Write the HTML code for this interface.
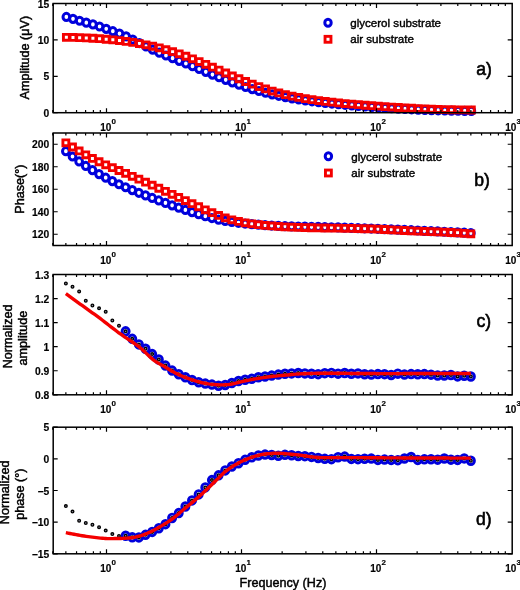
<!DOCTYPE html>
<html><head><meta charset="utf-8"><title>Frequency response plots</title>
<style>
html,body{margin:0;padding:0;background:#fff;}
body{width:520px;height:590px;overflow:hidden;}
svg{display:block;}
text{font-family:"Liberation Sans",Arial,Helvetica,sans-serif;fill:#000;}
.tl{font-size:10.3px;font-weight:bold;stroke:#000;stroke-width:0.15px;}
.sup{font-size:8px;}
.lg{font-size:11.6px;stroke:#000;stroke-width:0.4px;}
.al{font-size:12.6px;stroke:#000;stroke-width:0.45px;}
.pl{font-size:17.6px;stroke:#000;stroke-width:0.6px;}
</style></head><body>
<svg width="520" height="590" viewBox="0 0 520 590">
<rect width="520" height="590" fill="#fff"/>
<g fill="none" stroke="#0000dc" stroke-width="3"><ellipse cx="66.36" cy="16.97" rx="3.35" ry="3.6"/><ellipse cx="73" cy="18.82" rx="3.35" ry="3.6"/><ellipse cx="79.64" cy="20.77" rx="3.35" ry="3.6"/><ellipse cx="86.28" cy="22.65" rx="3.35" ry="3.6"/><ellipse cx="92.92" cy="24.44" rx="3.35" ry="3.6"/><ellipse cx="99.56" cy="26.51" rx="3.35" ry="3.6"/><ellipse cx="106.2" cy="28.82" rx="3.35" ry="3.6"/><ellipse cx="112.84" cy="31.2" rx="3.35" ry="3.6"/><ellipse cx="119.48" cy="33.59" rx="3.35" ry="3.6"/><ellipse cx="126.12" cy="36.28" rx="3.35" ry="3.6"/><ellipse cx="132.75" cy="39.53" rx="3.35" ry="3.6"/><ellipse cx="139.39" cy="43.05" rx="3.35" ry="3.6"/><ellipse cx="146.03" cy="46.46" rx="3.35" ry="3.6"/><ellipse cx="152.67" cy="49.68" rx="3.35" ry="3.6"/><ellipse cx="159.31" cy="52.7" rx="3.35" ry="3.6"/><ellipse cx="165.95" cy="55.52" rx="3.35" ry="3.6"/><ellipse cx="172.59" cy="58.21" rx="3.35" ry="3.6"/><ellipse cx="179.23" cy="60.84" rx="3.35" ry="3.6"/><ellipse cx="185.87" cy="63.49" rx="3.35" ry="3.6"/><ellipse cx="192.51" cy="66.22" rx="3.35" ry="3.6"/><ellipse cx="199.15" cy="69.01" rx="3.35" ry="3.6"/><ellipse cx="205.79" cy="71.81" rx="3.35" ry="3.6"/><ellipse cx="212.43" cy="74.56" rx="3.35" ry="3.6"/><ellipse cx="219.07" cy="77.25" rx="3.35" ry="3.6"/><ellipse cx="225.71" cy="79.86" rx="3.35" ry="3.6"/><ellipse cx="232.34" cy="82.36" rx="3.35" ry="3.6"/><ellipse cx="238.98" cy="84.75" rx="3.35" ry="3.6"/><ellipse cx="245.62" cy="86.99" rx="3.35" ry="3.6"/><ellipse cx="252.26" cy="89.08" rx="3.35" ry="3.6"/><ellipse cx="258.9" cy="90.99" rx="3.35" ry="3.6"/><ellipse cx="265.54" cy="92.74" rx="3.35" ry="3.6"/><ellipse cx="272.18" cy="94.34" rx="3.35" ry="3.6"/><ellipse cx="278.82" cy="95.79" rx="3.35" ry="3.6"/><ellipse cx="285.46" cy="97.12" rx="3.35" ry="3.6"/><ellipse cx="292.1" cy="98.32" rx="3.35" ry="3.6"/><ellipse cx="298.74" cy="99.41" rx="3.35" ry="3.6"/><ellipse cx="305.38" cy="100.4" rx="3.35" ry="3.6"/><ellipse cx="312.02" cy="101.3" rx="3.35" ry="3.6"/><ellipse cx="318.66" cy="102.11" rx="3.35" ry="3.6"/><ellipse cx="325.3" cy="102.86" rx="3.35" ry="3.6"/><ellipse cx="331.93" cy="103.55" rx="3.35" ry="3.6"/><ellipse cx="338.57" cy="104.19" rx="3.35" ry="3.6"/><ellipse cx="345.21" cy="104.79" rx="3.35" ry="3.6"/><ellipse cx="351.85" cy="105.37" rx="3.35" ry="3.6"/><ellipse cx="358.49" cy="105.91" rx="3.35" ry="3.6"/><ellipse cx="365.13" cy="106.43" rx="3.35" ry="3.6"/><ellipse cx="371.77" cy="106.92" rx="3.35" ry="3.6"/><ellipse cx="378.41" cy="107.39" rx="3.35" ry="3.6"/><ellipse cx="385.05" cy="107.82" rx="3.35" ry="3.6"/><ellipse cx="391.69" cy="108.23" rx="3.35" ry="3.6"/><ellipse cx="398.33" cy="108.61" rx="3.35" ry="3.6"/><ellipse cx="404.97" cy="108.96" rx="3.35" ry="3.6"/><ellipse cx="411.61" cy="109.28" rx="3.35" ry="3.6"/><ellipse cx="418.25" cy="109.58" rx="3.35" ry="3.6"/><ellipse cx="424.89" cy="109.85" rx="3.35" ry="3.6"/><ellipse cx="431.52" cy="110.09" rx="3.35" ry="3.6"/><ellipse cx="438.16" cy="110.3" rx="3.35" ry="3.6"/><ellipse cx="444.8" cy="110.48" rx="3.35" ry="3.6"/><ellipse cx="451.44" cy="110.64" rx="3.35" ry="3.6"/><ellipse cx="458.08" cy="110.76" rx="3.35" ry="3.6"/><ellipse cx="464.72" cy="110.86" rx="3.35" ry="3.6"/><ellipse cx="471.36" cy="110.93" rx="3.35" ry="3.6"/></g>
<path fill="none" stroke="#f40000" stroke-width="2.9" d="M63.41 34.39h5.9v5.9h-5.9zM70.05 34.5h5.9v5.9h-5.9zM76.69 34.68h5.9v5.9h-5.9zM83.33 34.94h5.9v5.9h-5.9zM89.97 35.3h5.9v5.9h-5.9zM96.61 35.74h5.9v5.9h-5.9zM103.25 36.28h5.9v5.9h-5.9zM109.89 36.92h5.9v5.9h-5.9zM116.53 37.66h5.9v5.9h-5.9zM123.17 38.51h5.9v5.9h-5.9zM129.8 39.49h5.9v5.9h-5.9zM136.44 40.6h5.9v5.9h-5.9zM143.08 41.86h5.9v5.9h-5.9zM149.72 43.28h5.9v5.9h-5.9zM156.36 44.89h5.9v5.9h-5.9zM163 46.69h5.9v5.9h-5.9zM169.64 48.69h5.9v5.9h-5.9zM176.28 50.91h5.9v5.9h-5.9zM182.92 53.31h5.9v5.9h-5.9zM189.56 55.88h5.9v5.9h-5.9zM196.2 58.58h5.9v5.9h-5.9zM202.84 61.37h5.9v5.9h-5.9zM209.48 64.24h5.9v5.9h-5.9zM216.12 67.14h5.9v5.9h-5.9zM222.76 70.05h5.9v5.9h-5.9zM229.39 72.94h5.9v5.9h-5.9zM236.03 75.78h5.9v5.9h-5.9zM242.67 78.53h5.9v5.9h-5.9zM249.31 81.18h5.9v5.9h-5.9zM255.95 83.67h5.9v5.9h-5.9zM262.59 86h5.9v5.9h-5.9zM269.23 88.12h5.9v5.9h-5.9zM275.87 90.02h5.9v5.9h-5.9zM282.51 91.7h5.9v5.9h-5.9zM289.15 93.19h5.9v5.9h-5.9zM295.79 94.52h5.9v5.9h-5.9zM302.43 95.69h5.9v5.9h-5.9zM309.07 96.73h5.9v5.9h-5.9zM315.71 97.66h5.9v5.9h-5.9zM322.35 98.49h5.9v5.9h-5.9zM328.98 99.26h5.9v5.9h-5.9zM335.62 99.96h5.9v5.9h-5.9zM342.26 100.6h5.9v5.9h-5.9zM348.9 101.2h5.9v5.9h-5.9zM355.54 101.75h5.9v5.9h-5.9zM362.18 102.28h5.9v5.9h-5.9zM368.82 102.77h5.9v5.9h-5.9zM375.46 103.25h5.9v5.9h-5.9zM382.1 103.7h5.9v5.9h-5.9zM388.74 104.14h5.9v5.9h-5.9zM395.38 104.55h5.9v5.9h-5.9zM402.02 104.93h5.9v5.9h-5.9zM408.66 105.29h5.9v5.9h-5.9zM415.3 105.62h5.9v5.9h-5.9zM421.94 105.92h5.9v5.9h-5.9zM428.57 106.19h5.9v5.9h-5.9zM435.21 106.43h5.9v5.9h-5.9zM441.85 106.63h5.9v5.9h-5.9zM448.49 106.79h5.9v5.9h-5.9zM455.13 106.91h5.9v5.9h-5.9zM461.77 107h5.9v5.9h-5.9zM468.41 107.04h5.9v5.9h-5.9z"/>
<rect x="53.2" y="3.5" width="459" height="109.2" fill="none" stroke="#000" stroke-width="1.5"/><path stroke="#000" stroke-width="1.2" fill="none" d="M52.78 112.7v-2.6M52.78 3.5v2.6M65.86 112.7v-2.6M65.86 3.5v2.6M76.55 112.7v-2.6M76.55 3.5v2.6M85.59 112.7v-2.6M85.59 3.5v2.6M93.42 112.7v-2.6M93.42 3.5v2.6M100.32 112.7v-2.6M100.32 3.5v2.6M106.5 112.7v-4.5M106.5 3.5v4.5M147.14 112.7v-2.6M147.14 3.5v2.6M170.91 112.7v-2.6M170.91 3.5v2.6M187.78 112.7v-2.6M187.78 3.5v2.6M200.86 112.7v-2.6M200.86 3.5v2.6M211.55 112.7v-2.6M211.55 3.5v2.6M220.59 112.7v-2.6M220.59 3.5v2.6M228.42 112.7v-2.6M228.42 3.5v2.6M235.32 112.7v-2.6M235.32 3.5v2.6M241.5 112.7v-4.5M241.5 3.5v4.5M282.14 112.7v-2.6M282.14 3.5v2.6M305.91 112.7v-2.6M305.91 3.5v2.6M322.78 112.7v-2.6M322.78 3.5v2.6M335.86 112.7v-2.6M335.86 3.5v2.6M346.55 112.7v-2.6M346.55 3.5v2.6M355.59 112.7v-2.6M355.59 3.5v2.6M363.42 112.7v-2.6M363.42 3.5v2.6M370.32 112.7v-2.6M370.32 3.5v2.6M376.5 112.7v-4.5M376.5 3.5v4.5M417.14 112.7v-2.6M417.14 3.5v2.6M440.91 112.7v-2.6M440.91 3.5v2.6M457.78 112.7v-2.6M457.78 3.5v2.6M470.86 112.7v-2.6M470.86 3.5v2.6M481.55 112.7v-2.6M481.55 3.5v2.6M490.59 112.7v-2.6M490.59 3.5v2.6M498.42 112.7v-2.6M498.42 3.5v2.6M505.32 112.7v-2.6M505.32 3.5v2.6M53.2 112.7h4.5M512.2 112.7h-4.5M53.2 76.3h4.5M512.2 76.3h-4.5M53.2 39.9h4.5M512.2 39.9h-4.5M53.2 3.5h4.5M512.2 3.5h-4.5"/><text class="tl" x="49.3" y="116.8" text-anchor="end">0</text><text class="tl" x="49.3" y="80.4" text-anchor="end">5</text><text class="tl" x="49.3" y="44" text-anchor="end">10</text><text class="tl" x="49.3" y="7.6" text-anchor="end">15</text><text class="tl" x="100.3" y="130.7" style="font-size:10px">10<tspan class="sup" dy="-7">0</tspan></text><text class="tl" x="235.3" y="130.7" style="font-size:10px">10<tspan class="sup" dy="-7">1</tspan></text><text class="tl" x="370.3" y="130.7" style="font-size:10px">10<tspan class="sup" dy="-7">2</tspan></text><text class="tl" x="505.3" y="130.7" style="font-size:10px">10<tspan class="sup" dy="-7">3</tspan></text>
<g fill="none" stroke="#0000dc" stroke-width="3"><ellipse cx="65.86" cy="151.22" rx="3.35" ry="3.6"/><ellipse cx="72.5" cy="156.52" rx="3.35" ry="3.6"/><ellipse cx="79.14" cy="161.42" rx="3.35" ry="3.6"/><ellipse cx="85.78" cy="165.96" rx="3.35" ry="3.6"/><ellipse cx="92.42" cy="170.17" rx="3.35" ry="3.6"/><ellipse cx="99.06" cy="174.07" rx="3.35" ry="3.6"/><ellipse cx="105.7" cy="177.71" rx="3.35" ry="3.6"/><ellipse cx="112.34" cy="181.09" rx="3.35" ry="3.6"/><ellipse cx="118.98" cy="184.27" rx="3.35" ry="3.6"/><ellipse cx="125.62" cy="187.25" rx="3.35" ry="3.6"/><ellipse cx="132.25" cy="190.09" rx="3.35" ry="3.6"/><ellipse cx="138.89" cy="192.8" rx="3.35" ry="3.6"/><ellipse cx="145.53" cy="195.41" rx="3.35" ry="3.6"/><ellipse cx="152.17" cy="197.95" rx="3.35" ry="3.6"/><ellipse cx="158.81" cy="200.45" rx="3.35" ry="3.6"/><ellipse cx="165.45" cy="202.91" rx="3.35" ry="3.6"/><ellipse cx="172.09" cy="205.31" rx="3.35" ry="3.6"/><ellipse cx="178.73" cy="207.64" rx="3.35" ry="3.6"/><ellipse cx="185.37" cy="209.91" rx="3.35" ry="3.6"/><ellipse cx="192.01" cy="212.1" rx="3.35" ry="3.6"/><ellipse cx="198.65" cy="214.21" rx="3.35" ry="3.6"/><ellipse cx="205.29" cy="216.22" rx="3.35" ry="3.6"/><ellipse cx="211.93" cy="218.05" rx="3.35" ry="3.6"/><ellipse cx="218.57" cy="219.63" rx="3.35" ry="3.6"/><ellipse cx="225.21" cy="220.91" rx="3.35" ry="3.6"/><ellipse cx="231.84" cy="221.95" rx="3.35" ry="3.6"/><ellipse cx="238.48" cy="222.8" rx="3.35" ry="3.6"/><ellipse cx="245.12" cy="223.54" rx="3.35" ry="3.6"/><ellipse cx="251.76" cy="224.17" rx="3.35" ry="3.6"/><ellipse cx="258.4" cy="224.7" rx="3.35" ry="3.6"/><ellipse cx="265.04" cy="225.15" rx="3.35" ry="3.6"/><ellipse cx="271.68" cy="225.53" rx="3.35" ry="3.6"/><ellipse cx="278.32" cy="225.84" rx="3.35" ry="3.6"/><ellipse cx="284.96" cy="226.09" rx="3.35" ry="3.6"/><ellipse cx="291.6" cy="226.31" rx="3.35" ry="3.6"/><ellipse cx="298.24" cy="226.49" rx="3.35" ry="3.6"/><ellipse cx="304.88" cy="226.65" rx="3.35" ry="3.6"/><ellipse cx="311.52" cy="226.79" rx="3.35" ry="3.6"/><ellipse cx="318.16" cy="226.93" rx="3.35" ry="3.6"/><ellipse cx="324.8" cy="227.08" rx="3.35" ry="3.6"/><ellipse cx="331.43" cy="227.25" rx="3.35" ry="3.6"/><ellipse cx="338.07" cy="227.43" rx="3.35" ry="3.6"/><ellipse cx="344.71" cy="227.63" rx="3.35" ry="3.6"/><ellipse cx="351.35" cy="227.84" rx="3.35" ry="3.6"/><ellipse cx="357.99" cy="228.06" rx="3.35" ry="3.6"/><ellipse cx="364.63" cy="228.3" rx="3.35" ry="3.6"/><ellipse cx="371.27" cy="228.55" rx="3.35" ry="3.6"/><ellipse cx="377.91" cy="228.8" rx="3.35" ry="3.6"/><ellipse cx="384.55" cy="229.07" rx="3.35" ry="3.6"/><ellipse cx="391.19" cy="229.35" rx="3.35" ry="3.6"/><ellipse cx="397.83" cy="229.63" rx="3.35" ry="3.6"/><ellipse cx="404.47" cy="229.92" rx="3.35" ry="3.6"/><ellipse cx="411.11" cy="230.22" rx="3.35" ry="3.6"/><ellipse cx="417.75" cy="230.52" rx="3.35" ry="3.6"/><ellipse cx="424.39" cy="230.83" rx="3.35" ry="3.6"/><ellipse cx="431.02" cy="231.14" rx="3.35" ry="3.6"/><ellipse cx="437.66" cy="231.45" rx="3.35" ry="3.6"/><ellipse cx="444.3" cy="231.77" rx="3.35" ry="3.6"/><ellipse cx="450.94" cy="232.08" rx="3.35" ry="3.6"/><ellipse cx="457.58" cy="232.4" rx="3.35" ry="3.6"/><ellipse cx="464.22" cy="232.71" rx="3.35" ry="3.6"/><ellipse cx="470.86" cy="233.02" rx="3.35" ry="3.6"/></g>
<path fill="none" stroke="#f40000" stroke-width="2.9" d="M62.91 139.85h5.9v5.9h-5.9zM69.55 144.04h5.9v5.9h-5.9zM76.19 148.01h5.9v5.9h-5.9zM82.83 151.87h5.9v5.9h-5.9zM89.47 155.51h5.9v5.9h-5.9zM96.11 158.81h5.9v5.9h-5.9zM102.75 161.85h5.9v5.9h-5.9zM109.39 164.73h5.9v5.9h-5.9zM116.03 167.56h5.9v5.9h-5.9zM122.67 170.42h5.9v5.9h-5.9zM129.3 173.33h5.9v5.9h-5.9zM135.94 176.27h5.9v5.9h-5.9zM142.58 179.25h5.9v5.9h-5.9zM149.22 182.25h5.9v5.9h-5.9zM155.86 185.29h5.9v5.9h-5.9zM162.5 188.35h5.9v5.9h-5.9zM169.14 191.42h5.9v5.9h-5.9zM175.78 194.52h5.9v5.9h-5.9zM182.42 197.62h5.9v5.9h-5.9zM189.06 200.71h5.9v5.9h-5.9zM195.7 203.8h5.9v5.9h-5.9zM202.34 206.84h5.9v5.9h-5.9zM208.98 209.76h5.9v5.9h-5.9zM215.62 212.46h5.9v5.9h-5.9zM222.26 214.84h5.9v5.9h-5.9zM228.89 216.84h5.9v5.9h-5.9zM235.53 218.49h5.9v5.9h-5.9zM242.17 219.83h5.9v5.9h-5.9zM248.81 220.9h5.9v5.9h-5.9zM255.45 221.76h5.9v5.9h-5.9zM262.09 222.45h5.9v5.9h-5.9zM268.73 223.01h5.9v5.9h-5.9zM275.37 223.47h5.9v5.9h-5.9zM282.01 223.86h5.9v5.9h-5.9zM288.65 224.18h5.9v5.9h-5.9zM295.29 224.44h5.9v5.9h-5.9zM301.93 224.65h5.9v5.9h-5.9zM308.57 224.82h5.9v5.9h-5.9zM315.21 224.96h5.9v5.9h-5.9zM321.85 225.07h5.9v5.9h-5.9zM328.48 225.17h5.9v5.9h-5.9zM335.12 225.26h5.9v5.9h-5.9zM341.76 225.36h5.9v5.9h-5.9zM348.4 225.47h5.9v5.9h-5.9zM355.04 225.61h5.9v5.9h-5.9zM361.68 225.78h5.9v5.9h-5.9zM368.32 225.99h5.9v5.9h-5.9zM374.96 226.24h5.9v5.9h-5.9zM381.6 226.54h5.9v5.9h-5.9zM388.24 226.86h5.9v5.9h-5.9zM394.88 227.19h5.9v5.9h-5.9zM401.52 227.53h5.9v5.9h-5.9zM408.16 227.87h5.9v5.9h-5.9zM414.8 228.19h5.9v5.9h-5.9zM421.44 228.48h5.9v5.9h-5.9zM428.07 228.75h5.9v5.9h-5.9zM434.71 229h5.9v5.9h-5.9zM441.35 229.26h5.9v5.9h-5.9zM447.99 229.56h5.9v5.9h-5.9zM454.63 229.91h5.9v5.9h-5.9zM461.27 230.33h5.9v5.9h-5.9zM467.91 230.86h5.9v5.9h-5.9z"/>
<rect x="53.2" y="133" width="459" height="112.5" fill="none" stroke="#000" stroke-width="1.5"/><path stroke="#000" stroke-width="1.2" fill="none" d="M52.78 245.5v-2.6M52.78 133v2.6M65.86 245.5v-2.6M65.86 133v2.6M76.55 245.5v-2.6M76.55 133v2.6M85.59 245.5v-2.6M85.59 133v2.6M93.42 245.5v-2.6M93.42 133v2.6M100.32 245.5v-2.6M100.32 133v2.6M106.5 245.5v-4.5M106.5 133v4.5M147.14 245.5v-2.6M147.14 133v2.6M170.91 245.5v-2.6M170.91 133v2.6M187.78 245.5v-2.6M187.78 133v2.6M200.86 245.5v-2.6M200.86 133v2.6M211.55 245.5v-2.6M211.55 133v2.6M220.59 245.5v-2.6M220.59 133v2.6M228.42 245.5v-2.6M228.42 133v2.6M235.32 245.5v-2.6M235.32 133v2.6M241.5 245.5v-4.5M241.5 133v4.5M282.14 245.5v-2.6M282.14 133v2.6M305.91 245.5v-2.6M305.91 133v2.6M322.78 245.5v-2.6M322.78 133v2.6M335.86 245.5v-2.6M335.86 133v2.6M346.55 245.5v-2.6M346.55 133v2.6M355.59 245.5v-2.6M355.59 133v2.6M363.42 245.5v-2.6M363.42 133v2.6M370.32 245.5v-2.6M370.32 133v2.6M376.5 245.5v-4.5M376.5 133v4.5M417.14 245.5v-2.6M417.14 133v2.6M440.91 245.5v-2.6M440.91 133v2.6M457.78 245.5v-2.6M457.78 133v2.6M470.86 245.5v-2.6M470.86 133v2.6M481.55 245.5v-2.6M481.55 133v2.6M490.59 245.5v-2.6M490.59 133v2.6M498.42 245.5v-2.6M498.42 133v2.6M505.32 245.5v-2.6M505.32 133v2.6M53.2 234.25h4.5M512.2 234.25h-4.5M53.2 211.75h4.5M512.2 211.75h-4.5M53.2 189.25h4.5M512.2 189.25h-4.5M53.2 166.75h4.5M512.2 166.75h-4.5M53.2 144.25h4.5M512.2 144.25h-4.5"/><text class="tl" x="49.3" y="238.35" text-anchor="end">120</text><text class="tl" x="49.3" y="215.85" text-anchor="end">140</text><text class="tl" x="49.3" y="193.35" text-anchor="end">160</text><text class="tl" x="49.3" y="170.85" text-anchor="end">180</text><text class="tl" x="49.3" y="148.35" text-anchor="end">200</text><text class="tl" x="100.3" y="263.5" style="font-size:10px">10<tspan class="sup" dy="-7">0</tspan></text><text class="tl" x="235.3" y="263.5" style="font-size:10px">10<tspan class="sup" dy="-7">1</tspan></text><text class="tl" x="370.3" y="263.5" style="font-size:10px">10<tspan class="sup" dy="-7">2</tspan></text><text class="tl" x="505.3" y="263.5" style="font-size:10px">10<tspan class="sup" dy="-7">3</tspan></text>
<g fill="none" stroke="#0000dc" stroke-width="2.9"><ellipse cx="125.62" cy="331.33" rx="3.55" ry="3.8"/><ellipse cx="132.25" cy="338.84" rx="3.55" ry="3.8"/><ellipse cx="138.89" cy="344.39" rx="3.55" ry="3.8"/><ellipse cx="145.53" cy="348.78" rx="3.55" ry="3.8"/><ellipse cx="152.17" cy="354.08" rx="3.55" ry="3.8"/><ellipse cx="158.81" cy="359.55" rx="3.55" ry="3.8"/><ellipse cx="165.45" cy="365.56" rx="3.55" ry="3.8"/><ellipse cx="172.09" cy="370.56" rx="3.55" ry="3.8"/><ellipse cx="178.73" cy="374.21" rx="3.55" ry="3.8"/><ellipse cx="185.37" cy="377.23" rx="3.55" ry="3.8"/><ellipse cx="192.01" cy="380.04" rx="3.55" ry="3.8"/><ellipse cx="198.65" cy="382.21" rx="3.55" ry="3.8"/><ellipse cx="205.29" cy="383.62" rx="3.55" ry="3.8"/><ellipse cx="211.93" cy="384.6" rx="3.55" ry="3.8"/><ellipse cx="218.57" cy="385.8" rx="3.55" ry="3.8"/><ellipse cx="225.21" cy="385" rx="3.55" ry="3.8"/><ellipse cx="231.84" cy="383.02" rx="3.55" ry="3.8"/><ellipse cx="238.48" cy="381" rx="3.55" ry="3.8"/><ellipse cx="245.12" cy="379.8" rx="3.55" ry="3.8"/><ellipse cx="251.76" cy="378.81" rx="3.55" ry="3.8"/><ellipse cx="258.4" cy="377.3" rx="3.55" ry="3.8"/><ellipse cx="265.04" cy="376.49" rx="3.55" ry="3.8"/><ellipse cx="271.68" cy="375.6" rx="3.55" ry="3.8"/><ellipse cx="278.32" cy="374.6" rx="3.55" ry="3.8"/><ellipse cx="284.96" cy="373.8" rx="3.55" ry="3.8"/><ellipse cx="291.6" cy="373.4" rx="3.55" ry="3.8"/><ellipse cx="298.24" cy="373" rx="3.55" ry="3.8"/><ellipse cx="304.88" cy="373.38" rx="3.55" ry="3.8"/><ellipse cx="311.52" cy="373.78" rx="3.55" ry="3.8"/><ellipse cx="318.16" cy="374.13" rx="3.55" ry="3.8"/><ellipse cx="324.8" cy="373.19" rx="3.55" ry="3.8"/><ellipse cx="331.43" cy="372.89" rx="3.55" ry="3.8"/><ellipse cx="338.07" cy="373.65" rx="3.55" ry="3.8"/><ellipse cx="344.71" cy="373.04" rx="3.55" ry="3.8"/><ellipse cx="351.35" cy="373.78" rx="3.55" ry="3.8"/><ellipse cx="357.99" cy="373.42" rx="3.55" ry="3.8"/><ellipse cx="364.63" cy="374.27" rx="3.55" ry="3.8"/><ellipse cx="371.27" cy="374.59" rx="3.55" ry="3.8"/><ellipse cx="377.91" cy="374.1" rx="3.55" ry="3.8"/><ellipse cx="384.55" cy="374.13" rx="3.55" ry="3.8"/><ellipse cx="391.19" cy="375.02" rx="3.55" ry="3.8"/><ellipse cx="397.83" cy="373.68" rx="3.55" ry="3.8"/><ellipse cx="404.47" cy="374.57" rx="3.55" ry="3.8"/><ellipse cx="411.11" cy="374.1" rx="3.55" ry="3.8"/><ellipse cx="417.75" cy="374.3" rx="3.55" ry="3.8"/><ellipse cx="424.39" cy="374.1" rx="3.55" ry="3.8"/><ellipse cx="431.02" cy="374.66" rx="3.55" ry="3.8"/><ellipse cx="437.66" cy="375.6" rx="3.55" ry="3.8"/><ellipse cx="444.3" cy="375.48" rx="3.55" ry="3.8"/><ellipse cx="450.94" cy="375.03" rx="3.55" ry="3.8"/><ellipse cx="457.58" cy="376.39" rx="3.55" ry="3.8"/><ellipse cx="464.22" cy="375.8" rx="3.55" ry="3.8"/><ellipse cx="470.86" cy="376.51" rx="3.55" ry="3.8"/></g>
<g fill="#8a8a9a" stroke="#000" stroke-width="1.3"><circle cx="65.86" cy="283.47" r="1.35"/><circle cx="72.5" cy="286.72" r="1.35"/><circle cx="79.14" cy="291.41" r="1.35"/><circle cx="85.78" cy="300.71" r="1.35"/><circle cx="92.42" cy="305.48" r="1.35"/><circle cx="99.06" cy="308.36" r="1.35"/><circle cx="105.7" cy="311.81" r="1.35"/><circle cx="112.34" cy="320.46" r="1.35"/><circle cx="118.98" cy="325.8" r="1.35"/><circle cx="125.62" cy="331.33" r="1.35"/><circle cx="132.25" cy="338.84" r="1.35"/><circle cx="138.89" cy="344.39" r="1.35"/><circle cx="145.53" cy="348.78" r="1.35"/><circle cx="152.17" cy="354.08" r="1.35"/><circle cx="158.81" cy="359.55" r="1.35"/><circle cx="165.45" cy="365.56" r="1.35"/><circle cx="172.09" cy="370.56" r="1.35"/><circle cx="178.73" cy="374.21" r="1.35"/><circle cx="185.37" cy="377.23" r="1.35"/><circle cx="192.01" cy="380.04" r="1.35"/><circle cx="198.65" cy="382.21" r="1.35"/><circle cx="205.29" cy="383.62" r="1.35"/><circle cx="211.93" cy="384.6" r="1.35"/><circle cx="218.57" cy="385.8" r="1.35"/><circle cx="225.21" cy="385" r="1.35"/><circle cx="231.84" cy="383.02" r="1.35"/><circle cx="238.48" cy="381" r="1.35"/><circle cx="245.12" cy="379.8" r="1.35"/><circle cx="251.76" cy="378.81" r="1.35"/><circle cx="258.4" cy="377.3" r="1.35"/><circle cx="265.04" cy="376.49" r="1.35"/><circle cx="271.68" cy="375.6" r="1.35"/><circle cx="278.32" cy="374.6" r="1.35"/><circle cx="284.96" cy="373.8" r="1.35"/><circle cx="291.6" cy="373.4" r="1.35"/><circle cx="298.24" cy="373" r="1.35"/><circle cx="304.88" cy="373.38" r="1.35"/><circle cx="311.52" cy="373.78" r="1.35"/><circle cx="318.16" cy="374.13" r="1.35"/><circle cx="324.8" cy="373.19" r="1.35"/><circle cx="331.43" cy="372.89" r="1.35"/><circle cx="338.07" cy="373.65" r="1.35"/><circle cx="344.71" cy="373.04" r="1.35"/><circle cx="351.35" cy="373.78" r="1.35"/><circle cx="357.99" cy="373.42" r="1.35"/><circle cx="364.63" cy="374.27" r="1.35"/><circle cx="371.27" cy="374.59" r="1.35"/><circle cx="377.91" cy="374.1" r="1.35"/><circle cx="384.55" cy="374.13" r="1.35"/><circle cx="391.19" cy="375.02" r="1.35"/><circle cx="397.83" cy="373.68" r="1.35"/><circle cx="404.47" cy="374.57" r="1.35"/><circle cx="411.11" cy="374.1" r="1.35"/><circle cx="417.75" cy="374.3" r="1.35"/><circle cx="424.39" cy="374.1" r="1.35"/><circle cx="431.02" cy="374.66" r="1.35"/><circle cx="437.66" cy="375.6" r="1.35"/><circle cx="444.3" cy="375.48" r="1.35"/><circle cx="450.94" cy="375.03" r="1.35"/><circle cx="457.58" cy="376.39" r="1.35"/><circle cx="464.22" cy="375.8" r="1.35"/><circle cx="470.86" cy="376.51" r="1.35"/></g>
<polyline fill="none" stroke="#f40000" stroke-width="3.4" stroke-linejoin="round" points="65.86,293.74 67.9,295.21 69.93,296.67 71.97,298.14 74,299.61 76.04,301.08 78.07,302.55 80.11,304.02 82.14,305.49 84.18,306.95 86.21,308.41 88.25,309.86 90.28,311.32 92.32,312.78 94.35,314.24 96.39,315.72 98.42,317.21 100.46,318.72 102.49,320.25 104.53,321.81 106.56,323.39 108.6,324.98 110.63,326.56 112.67,328.14 114.71,329.71 116.74,331.26 118.78,332.77 120.81,334.24 122.85,335.66 124.88,337.04 126.92,338.39 128.95,339.74 130.99,341.09 133.02,342.47 135.06,343.88 137.09,345.36 139.13,346.91 141.16,348.58 143.2,350.43 145.23,352.38 147.27,354.37 149.3,356.33 151.34,358.18 153.37,359.87 155.41,361.32 157.44,362.6 159.48,363.78 161.51,364.91 163.55,366.05 165.58,367.25 167.62,368.5 169.65,369.75 171.69,370.97 173.73,372.1 175.76,373.15 177.8,374.15 179.83,375.1 181.87,376.01 183.9,376.86 185.94,377.66 187.97,378.41 190.01,379.13 192.04,379.8 194.08,380.44 196.11,381.08 198.15,381.68 200.18,382.25 202.22,382.74 204.25,383.15 206.29,383.53 208.32,383.88 210.36,384.16 212.39,384.38 214.43,384.55 216.46,384.7 218.5,384.82 220.53,384.89 222.57,384.89 224.6,384.8 226.64,384.66 228.68,384.48 230.71,384.25 232.75,383.85 234.78,383.33 236.82,382.78 238.85,382.24 240.89,381.79 242.92,381.35 244.96,380.92 246.99,380.49 249.03,380.07 251.06,379.67 253.1,379.29 255.13,378.93 257.17,378.58 259.2,378.25 261.24,377.92 263.27,377.61 265.31,377.31 267.34,377.03 269.38,376.76 271.41,376.52 273.45,376.29 275.48,376.08 277.52,375.88 279.55,375.68 281.59,375.5 283.62,375.31 285.66,375.13 287.7,374.94 289.73,374.74 291.77,374.55 293.8,374.35 295.84,374.17 297.87,374.01 299.91,373.88 301.94,373.78 303.98,373.7 306.01,373.61 308.05,373.54 310.08,373.47 312.12,373.41 314.15,373.36 316.19,373.32 318.22,373.3 320.26,373.3 322.29,373.3 324.33,373.3 326.36,373.3 328.4,373.3 330.43,373.3 332.47,373.3 334.5,373.3 336.54,373.3 338.57,373.3 340.61,373.3 342.64,373.31 344.68,373.33 346.72,373.35 348.75,373.38 350.79,373.4 352.82,373.43 354.86,373.46 356.89,373.48 358.93,373.5 360.96,373.51 363,373.52 365.03,373.53 367.07,373.54 369.1,373.55 371.14,373.56 373.17,373.56 375.21,373.57 377.24,373.58 379.28,373.58 381.31,373.59 383.35,373.59 385.38,373.6 387.42,373.6 389.45,373.6 391.49,373.6 393.52,373.6 395.56,373.59 397.59,373.59 399.63,373.58 401.66,373.58 403.7,373.57 405.74,373.56 407.77,373.56 409.81,373.55 411.84,373.54 413.88,373.53 415.91,373.53 417.95,373.52 419.98,373.51 422.02,373.51 424.05,373.51 426.09,373.5 428.12,373.5 430.16,373.5 432.19,373.5 434.23,373.5 436.26,373.5 438.3,373.5 440.33,373.5 442.37,373.5 444.4,373.5 446.44,373.5 448.47,373.5 450.51,373.5 452.54,373.5 454.58,373.5 456.61,373.5 458.65,373.5 460.69,373.5 462.72,373.5 464.76,373.5 466.79,373.5 468.83,373.5 470.86,373.5"/>
<rect x="53.2" y="274.5" width="459" height="120.3" fill="none" stroke="#000" stroke-width="1.5"/><path stroke="#000" stroke-width="1.2" fill="none" d="M52.78 394.8v-2.6M52.78 274.5v2.6M65.86 394.8v-2.6M65.86 274.5v2.6M76.55 394.8v-2.6M76.55 274.5v2.6M85.59 394.8v-2.6M85.59 274.5v2.6M93.42 394.8v-2.6M93.42 274.5v2.6M100.32 394.8v-2.6M100.32 274.5v2.6M106.5 394.8v-4.5M106.5 274.5v4.5M147.14 394.8v-2.6M147.14 274.5v2.6M170.91 394.8v-2.6M170.91 274.5v2.6M187.78 394.8v-2.6M187.78 274.5v2.6M200.86 394.8v-2.6M200.86 274.5v2.6M211.55 394.8v-2.6M211.55 274.5v2.6M220.59 394.8v-2.6M220.59 274.5v2.6M228.42 394.8v-2.6M228.42 274.5v2.6M235.32 394.8v-2.6M235.32 274.5v2.6M241.5 394.8v-4.5M241.5 274.5v4.5M282.14 394.8v-2.6M282.14 274.5v2.6M305.91 394.8v-2.6M305.91 274.5v2.6M322.78 394.8v-2.6M322.78 274.5v2.6M335.86 394.8v-2.6M335.86 274.5v2.6M346.55 394.8v-2.6M346.55 274.5v2.6M355.59 394.8v-2.6M355.59 274.5v2.6M363.42 394.8v-2.6M363.42 274.5v2.6M370.32 394.8v-2.6M370.32 274.5v2.6M376.5 394.8v-4.5M376.5 274.5v4.5M417.14 394.8v-2.6M417.14 274.5v2.6M440.91 394.8v-2.6M440.91 274.5v2.6M457.78 394.8v-2.6M457.78 274.5v2.6M470.86 394.8v-2.6M470.86 274.5v2.6M481.55 394.8v-2.6M481.55 274.5v2.6M490.59 394.8v-2.6M490.59 274.5v2.6M498.42 394.8v-2.6M498.42 274.5v2.6M505.32 394.8v-2.6M505.32 274.5v2.6M53.2 394.8h4.5M512.2 394.8h-4.5M53.2 370.74h4.5M512.2 370.74h-4.5M53.2 346.68h4.5M512.2 346.68h-4.5M53.2 322.62h4.5M512.2 322.62h-4.5M53.2 298.56h4.5M512.2 298.56h-4.5M53.2 274.5h4.5M512.2 274.5h-4.5"/><text class="tl" x="49.3" y="398.9" text-anchor="end">0.8</text><text class="tl" x="49.3" y="374.84" text-anchor="end">0.9</text><text class="tl" x="49.3" y="350.78" text-anchor="end">1</text><text class="tl" x="49.3" y="326.72" text-anchor="end">1.1</text><text class="tl" x="49.3" y="302.66" text-anchor="end">1.2</text><text class="tl" x="49.3" y="278.6" text-anchor="end">1.3</text><text class="tl" x="100.3" y="412.8" style="font-size:10px">10<tspan class="sup" dy="-7">0</tspan></text><text class="tl" x="235.3" y="412.8" style="font-size:10px">10<tspan class="sup" dy="-7">1</tspan></text><text class="tl" x="370.3" y="412.8" style="font-size:10px">10<tspan class="sup" dy="-7">2</tspan></text><text class="tl" x="505.3" y="412.8" style="font-size:10px">10<tspan class="sup" dy="-7">3</tspan></text>
<g fill="none" stroke="#0000dc" stroke-width="2.9"><ellipse cx="125.62" cy="535.78" rx="3.55" ry="3.8"/><ellipse cx="132.25" cy="537.34" rx="3.55" ry="3.8"/><ellipse cx="138.89" cy="537.42" rx="3.55" ry="3.8"/><ellipse cx="145.53" cy="534.84" rx="3.55" ry="3.8"/><ellipse cx="152.17" cy="531.91" rx="3.55" ry="3.8"/><ellipse cx="158.81" cy="528.2" rx="3.55" ry="3.8"/><ellipse cx="165.45" cy="524.14" rx="3.55" ry="3.8"/><ellipse cx="172.09" cy="517.95" rx="3.55" ry="3.8"/><ellipse cx="178.73" cy="513.06" rx="3.55" ry="3.8"/><ellipse cx="185.37" cy="506.48" rx="3.55" ry="3.8"/><ellipse cx="192.01" cy="500.41" rx="3.55" ry="3.8"/><ellipse cx="198.65" cy="494.38" rx="3.55" ry="3.8"/><ellipse cx="205.29" cy="487.43" rx="3.55" ry="3.8"/><ellipse cx="211.93" cy="480.09" rx="3.55" ry="3.8"/><ellipse cx="218.57" cy="475.31" rx="3.55" ry="3.8"/><ellipse cx="225.21" cy="470.41" rx="3.55" ry="3.8"/><ellipse cx="231.84" cy="466.55" rx="3.55" ry="3.8"/><ellipse cx="238.48" cy="463.21" rx="3.55" ry="3.8"/><ellipse cx="245.12" cy="459.83" rx="3.55" ry="3.8"/><ellipse cx="251.76" cy="457.28" rx="3.55" ry="3.8"/><ellipse cx="258.4" cy="455.45" rx="3.55" ry="3.8"/><ellipse cx="265.04" cy="454.61" rx="3.55" ry="3.8"/><ellipse cx="271.68" cy="454.98" rx="3.55" ry="3.8"/><ellipse cx="278.32" cy="455.82" rx="3.55" ry="3.8"/><ellipse cx="284.96" cy="454.81" rx="3.55" ry="3.8"/><ellipse cx="291.6" cy="455.23" rx="3.55" ry="3.8"/><ellipse cx="298.24" cy="455.96" rx="3.55" ry="3.8"/><ellipse cx="304.88" cy="456.18" rx="3.55" ry="3.8"/><ellipse cx="311.52" cy="456.94" rx="3.55" ry="3.8"/><ellipse cx="318.16" cy="458" rx="3.55" ry="3.8"/><ellipse cx="324.8" cy="458.84" rx="3.55" ry="3.8"/><ellipse cx="331.43" cy="459.18" rx="3.55" ry="3.8"/><ellipse cx="338.07" cy="457.22" rx="3.55" ry="3.8"/><ellipse cx="344.71" cy="456.59" rx="3.55" ry="3.8"/><ellipse cx="351.35" cy="458.9" rx="3.55" ry="3.8"/><ellipse cx="357.99" cy="459.19" rx="3.55" ry="3.8"/><ellipse cx="364.63" cy="458.78" rx="3.55" ry="3.8"/><ellipse cx="371.27" cy="458.62" rx="3.55" ry="3.8"/><ellipse cx="377.91" cy="459.9" rx="3.55" ry="3.8"/><ellipse cx="384.55" cy="459.61" rx="3.55" ry="3.8"/><ellipse cx="391.19" cy="459.94" rx="3.55" ry="3.8"/><ellipse cx="397.83" cy="460.18" rx="3.55" ry="3.8"/><ellipse cx="404.47" cy="458.5" rx="3.55" ry="3.8"/><ellipse cx="411.11" cy="457.05" rx="3.55" ry="3.8"/><ellipse cx="417.75" cy="459.88" rx="3.55" ry="3.8"/><ellipse cx="424.39" cy="459.36" rx="3.55" ry="3.8"/><ellipse cx="431.02" cy="459.24" rx="3.55" ry="3.8"/><ellipse cx="437.66" cy="459.65" rx="3.55" ry="3.8"/><ellipse cx="444.3" cy="458.52" rx="3.55" ry="3.8"/><ellipse cx="450.94" cy="459.64" rx="3.55" ry="3.8"/><ellipse cx="457.58" cy="459.89" rx="3.55" ry="3.8"/><ellipse cx="464.22" cy="458.41" rx="3.55" ry="3.8"/><ellipse cx="470.86" cy="460.74" rx="3.55" ry="3.8"/></g>
<g fill="#8a8a9a" stroke="#000" stroke-width="1.3"><circle cx="65.86" cy="506.1" r="1.35"/><circle cx="72.5" cy="511.61" r="1.35"/><circle cx="79.14" cy="520.75" r="1.35"/><circle cx="85.78" cy="523.02" r="1.35"/><circle cx="92.42" cy="524.75" r="1.35"/><circle cx="99.06" cy="527.14" r="1.35"/><circle cx="105.7" cy="530.58" r="1.35"/><circle cx="112.34" cy="534.1" r="1.35"/><circle cx="118.98" cy="536" r="1.35"/><circle cx="125.62" cy="535.78" r="1.35"/><circle cx="132.25" cy="537.34" r="1.35"/><circle cx="138.89" cy="537.42" r="1.35"/><circle cx="145.53" cy="534.84" r="1.35"/><circle cx="152.17" cy="531.91" r="1.35"/><circle cx="158.81" cy="528.2" r="1.35"/><circle cx="165.45" cy="524.14" r="1.35"/><circle cx="172.09" cy="517.95" r="1.35"/><circle cx="178.73" cy="513.06" r="1.35"/><circle cx="185.37" cy="506.48" r="1.35"/><circle cx="192.01" cy="500.41" r="1.35"/><circle cx="198.65" cy="494.38" r="1.35"/><circle cx="205.29" cy="487.43" r="1.35"/><circle cx="211.93" cy="480.09" r="1.35"/><circle cx="218.57" cy="475.31" r="1.35"/><circle cx="225.21" cy="470.41" r="1.35"/><circle cx="231.84" cy="466.55" r="1.35"/><circle cx="238.48" cy="463.21" r="1.35"/><circle cx="245.12" cy="459.83" r="1.35"/><circle cx="251.76" cy="457.28" r="1.35"/><circle cx="258.4" cy="455.45" r="1.35"/><circle cx="265.04" cy="454.61" r="1.35"/><circle cx="271.68" cy="454.98" r="1.35"/><circle cx="278.32" cy="455.82" r="1.35"/><circle cx="284.96" cy="454.81" r="1.35"/><circle cx="291.6" cy="455.23" r="1.35"/><circle cx="298.24" cy="455.96" r="1.35"/><circle cx="304.88" cy="456.18" r="1.35"/><circle cx="311.52" cy="456.94" r="1.35"/><circle cx="318.16" cy="458" r="1.35"/><circle cx="324.8" cy="458.84" r="1.35"/><circle cx="331.43" cy="459.18" r="1.35"/><circle cx="338.07" cy="457.22" r="1.35"/><circle cx="344.71" cy="456.59" r="1.35"/><circle cx="351.35" cy="458.9" r="1.35"/><circle cx="357.99" cy="459.19" r="1.35"/><circle cx="364.63" cy="458.78" r="1.35"/><circle cx="371.27" cy="458.62" r="1.35"/><circle cx="377.91" cy="459.9" r="1.35"/><circle cx="384.55" cy="459.61" r="1.35"/><circle cx="391.19" cy="459.94" r="1.35"/><circle cx="397.83" cy="460.18" r="1.35"/><circle cx="404.47" cy="458.5" r="1.35"/><circle cx="411.11" cy="457.05" r="1.35"/><circle cx="417.75" cy="459.88" r="1.35"/><circle cx="424.39" cy="459.36" r="1.35"/><circle cx="431.02" cy="459.24" r="1.35"/><circle cx="437.66" cy="459.65" r="1.35"/><circle cx="444.3" cy="458.52" r="1.35"/><circle cx="450.94" cy="459.64" r="1.35"/><circle cx="457.58" cy="459.89" r="1.35"/><circle cx="464.22" cy="458.41" r="1.35"/><circle cx="470.86" cy="460.74" r="1.35"/></g>
<polyline fill="none" stroke="#f40000" stroke-width="3.4" stroke-linejoin="round" points="65.86,532.59 67.9,533.04 69.93,533.47 71.97,533.88 74,534.29 76.04,534.67 78.07,535.04 80.11,535.39 82.14,535.72 84.18,536.04 86.21,536.33 88.25,536.59 90.28,536.85 92.32,537.1 94.35,537.36 96.39,537.62 98.42,537.86 100.46,538.08 102.49,538.27 104.53,538.43 106.56,538.54 108.6,538.59 110.63,538.6 112.67,538.59 114.71,538.57 116.74,538.54 118.78,538.51 120.81,538.47 122.85,538.4 124.88,538.29 126.92,538.16 128.95,538 130.99,537.81 133.02,537.51 135.06,537.12 137.09,536.65 139.13,536.13 141.16,535.57 143.2,534.91 145.23,534.14 147.27,533.28 149.3,532.37 151.34,531.44 153.37,530.44 155.41,529.38 157.44,528.24 159.48,527.07 161.51,525.87 163.55,524.65 165.58,523.39 167.62,522.09 169.65,520.73 171.69,519.31 173.73,517.81 175.76,516.2 177.8,514.51 179.83,512.78 181.87,511.03 183.9,509.3 185.94,507.61 187.97,505.93 190.01,504.26 192.04,502.58 194.08,500.88 196.11,499.16 198.15,497.39 200.18,495.57 202.22,493.72 204.25,491.83 206.29,489.91 208.32,487.97 210.36,486.02 212.39,484.05 214.43,482.07 216.46,480.09 218.5,478.11 220.53,476.02 222.57,473.95 224.6,472.11 226.64,470.51 228.68,469.01 230.71,467.62 232.75,466.31 234.78,465.09 236.82,463.93 238.85,462.83 240.89,461.79 242.92,460.82 244.96,459.91 246.99,459.07 249.03,458.26 251.06,457.5 253.1,456.8 255.13,456.19 257.17,455.66 259.2,455.15 261.24,454.69 263.27,454.28 265.31,453.96 267.34,453.75 269.38,453.58 271.41,453.43 273.45,453.31 275.48,453.23 277.52,453.2 279.55,453.24 281.59,453.33 283.62,453.47 285.66,453.65 287.7,453.85 289.73,454.06 291.77,454.28 293.8,454.49 295.84,454.68 297.87,454.9 299.91,455.15 301.94,455.43 303.98,455.72 306.01,456.02 308.05,456.31 310.08,456.6 312.12,456.86 314.15,457.1 316.19,457.3 318.22,457.46 320.26,457.56 322.29,457.6 324.33,457.6 326.36,457.6 328.4,457.6 330.43,457.6 332.47,457.6 334.5,457.6 336.54,457.6 338.57,457.6 340.61,457.6 342.64,457.6 344.68,457.6 346.72,457.6 348.75,457.6 350.79,457.6 352.82,457.6 354.86,457.61 356.89,457.62 358.93,457.64 360.96,457.65 363,457.67 365.03,457.68 367.07,457.7 369.1,457.72 371.14,457.74 373.17,457.75 375.21,457.77 377.24,457.79 379.28,457.8 381.31,457.81 383.35,457.82 385.38,457.83 387.42,457.85 389.45,457.86 391.49,457.87 393.52,457.88 395.56,457.89 397.59,457.9 399.63,457.92 401.66,457.93 403.7,457.94 405.74,457.95 407.77,457.96 409.81,457.96 411.84,457.97 413.88,457.98 415.91,457.99 417.95,458 419.98,458 422.02,458.01 424.05,458.01 426.09,458.02 428.12,458.02 430.16,458.03 432.19,458.04 434.23,458.04 436.26,458.05 438.3,458.05 440.33,458.06 442.37,458.06 444.4,458.07 446.44,458.07 448.47,458.07 450.51,458.08 452.54,458.08 454.58,458.08 456.61,458.09 458.65,458.09 460.69,458.09 462.72,458.1 464.76,458.1 466.79,458.1 468.83,458.1 470.86,458.1"/>
<rect x="53.2" y="427.2" width="459" height="126.6" fill="none" stroke="#000" stroke-width="1.5"/><path stroke="#000" stroke-width="1.2" fill="none" d="M52.78 553.8v-2.6M52.78 427.2v2.6M65.86 553.8v-2.6M65.86 427.2v2.6M76.55 553.8v-2.6M76.55 427.2v2.6M85.59 553.8v-2.6M85.59 427.2v2.6M93.42 553.8v-2.6M93.42 427.2v2.6M100.32 553.8v-2.6M100.32 427.2v2.6M106.5 553.8v-4.5M106.5 427.2v4.5M147.14 553.8v-2.6M147.14 427.2v2.6M170.91 553.8v-2.6M170.91 427.2v2.6M187.78 553.8v-2.6M187.78 427.2v2.6M200.86 553.8v-2.6M200.86 427.2v2.6M211.55 553.8v-2.6M211.55 427.2v2.6M220.59 553.8v-2.6M220.59 427.2v2.6M228.42 553.8v-2.6M228.42 427.2v2.6M235.32 553.8v-2.6M235.32 427.2v2.6M241.5 553.8v-4.5M241.5 427.2v4.5M282.14 553.8v-2.6M282.14 427.2v2.6M305.91 553.8v-2.6M305.91 427.2v2.6M322.78 553.8v-2.6M322.78 427.2v2.6M335.86 553.8v-2.6M335.86 427.2v2.6M346.55 553.8v-2.6M346.55 427.2v2.6M355.59 553.8v-2.6M355.59 427.2v2.6M363.42 553.8v-2.6M363.42 427.2v2.6M370.32 553.8v-2.6M370.32 427.2v2.6M376.5 553.8v-4.5M376.5 427.2v4.5M417.14 553.8v-2.6M417.14 427.2v2.6M440.91 553.8v-2.6M440.91 427.2v2.6M457.78 553.8v-2.6M457.78 427.2v2.6M470.86 553.8v-2.6M470.86 427.2v2.6M481.55 553.8v-2.6M481.55 427.2v2.6M490.59 553.8v-2.6M490.59 427.2v2.6M498.42 553.8v-2.6M498.42 427.2v2.6M505.32 553.8v-2.6M505.32 427.2v2.6M53.2 553.8h4.5M512.2 553.8h-4.5M53.2 522.15h4.5M512.2 522.15h-4.5M53.2 490.5h4.5M512.2 490.5h-4.5M53.2 458.85h4.5M512.2 458.85h-4.5M53.2 427.2h4.5M512.2 427.2h-4.5"/><text class="tl" x="49.3" y="557.9" text-anchor="end">−15</text><text class="tl" x="49.3" y="526.25" text-anchor="end">−10</text><text class="tl" x="49.3" y="494.6" text-anchor="end">−5</text><text class="tl" x="49.3" y="462.95" text-anchor="end">0</text><text class="tl" x="49.3" y="431.3" text-anchor="end">5</text><text class="tl" x="100.3" y="571.8" style="font-size:10px">10<tspan class="sup" dy="-7">0</tspan></text><text class="tl" x="235.3" y="571.8" style="font-size:10px">10<tspan class="sup" dy="-7">1</tspan></text><text class="tl" x="370.3" y="571.8" style="font-size:10px">10<tspan class="sup" dy="-7">2</tspan></text><text class="tl" x="505.3" y="571.8" style="font-size:10px">10<tspan class="sup" dy="-7">3</tspan></text>
<ellipse cx="328" cy="22.7" rx="3.2" ry="3.5" fill="none" stroke="#0000dc" stroke-width="3.0"/>
<rect x="325.05" y="36.35" width="5.9" height="5.9" fill="none" stroke="#f40000" stroke-width="2.9"/>
<text class="lg" x="350.2" y="26.8">glycerol substrate</text>
<text class="lg" x="350.2" y="42.8">air substrate</text>
<ellipse cx="328.4" cy="156.3" rx="3.2" ry="3.5" fill="none" stroke="#0000dc" stroke-width="3.0"/>
<rect x="325.45" y="170.05" width="5.9" height="5.9" fill="none" stroke="#f40000" stroke-width="2.9"/>
<text class="lg" x="351.3" y="160.6">glycerol substrate</text>
<text class="lg" x="351.3" y="177.1">air substrate</text>
<text class="pl" x="476.3" y="74.8">a)</text>
<text class="pl" x="474.2" y="186.3">b)</text>
<text class="pl" x="476.4" y="326.6">c)</text>
<text class="pl" x="476" y="525.4">d)</text>
<text class="al" x="283" y="586.5" text-anchor="middle">Frequency (Hz)</text>
<text class="al" transform="translate(29,57.7) rotate(-90)" text-anchor="middle">Amplitude (μV)</text>
<text class="al" transform="translate(23.6,189.1) rotate(-90)" text-anchor="middle">Phase(°)</text>
<text class="al" transform="translate(12.1,336.4) rotate(-90)" text-anchor="middle">Normalized</text>
<text class="al" transform="translate(26.5,338.1) rotate(-90)" text-anchor="middle">amplitude</text>
<text class="al" transform="translate(9.2,492.3) rotate(-90)" text-anchor="middle">Normalized</text>
<text class="al" transform="translate(23.7,494.2) rotate(-90)" text-anchor="middle">phase (°)</text>
</svg>
</body></html>
